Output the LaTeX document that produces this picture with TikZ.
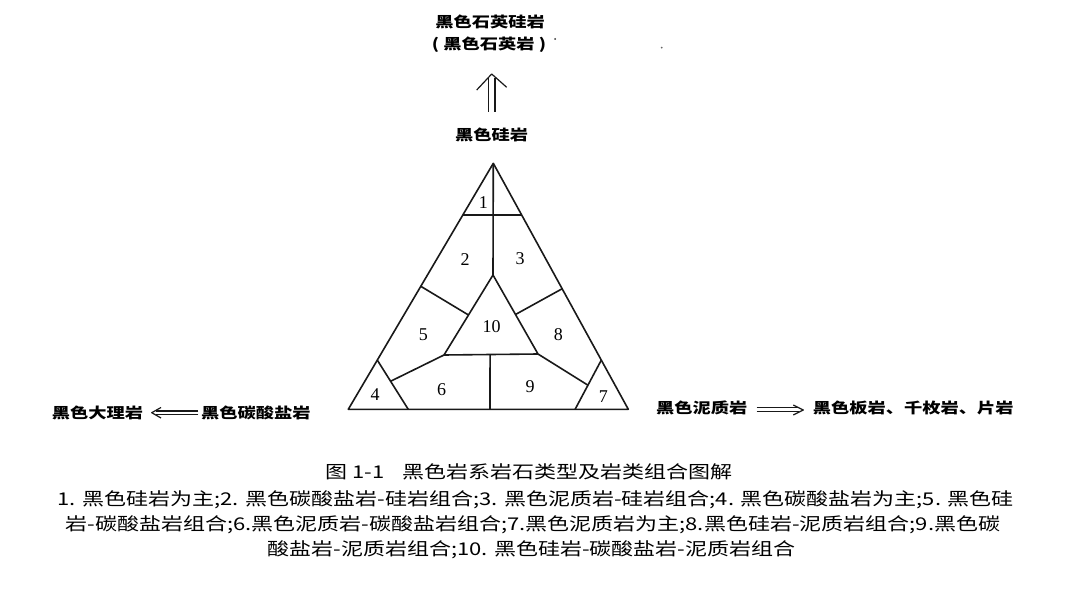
\documentclass[tikz,border=0pt]{standalone}
\usepackage{fontspec}
\newfontfamily\cjk[FakeStretch=1.25]{Noto Sans CJK SC}
\newfontfamily\numf{Liberation Serif}
\usetikzlibrary{calc}
\begin{document}
\begin{tikzpicture}[x=1pt,y=-1pt,line join=round,
  edge/.style={line width=1.6pt,black!90},
  arr/.style={line width=1.2pt,black!90},
  lbl/.style={font=\cjk\bfseries\fontsize{14.6}{16}\selectfont,inner sep=0pt},
  capline/.style={font=\cjk\fontsize{17.6}{20}\selectfont,inner sep=0pt},
  num/.style={font=\numf\fontsize{18}{20}\selectfont,inner sep=0pt}]
\useasboundingbox (0,0) rectangle (1072,594);
\fill[white] (0,0) rectangle (1072,594);
% outer triangle
\coordinate (A) at (493.3,163.3);
\coordinate (BL) at (348.3,409.3);
\coordinate (BR) at (628.3,409.3);
% inner triangle 10
\coordinate (Ta) at (493,275);
\coordinate (Tl) at (444,355);
\coordinate (Tr) at (538,354);
% points on sides
\coordinate (L1) at ($(A)!0.21!(BL)$);
\coordinate (R1) at ($(A)!0.21!(BR)$);
\coordinate (L5) at ($(A)!0.5!(BL)$);
\coordinate (R8) at ($(A)!0.51!(BR)$);
\coordinate (L4) at ($(A)!0.8!(BL)$);
\coordinate (R7) at ($(A)!0.8!(BR)$);
\coordinate (B4) at ($(BL)!0.214!(BR)$);
\coordinate (B7) at ($(BR)!0.19!(BL)$);
\coordinate (T5) at ($(Ta)!0.5!(Tl)$);
\coordinate (T8) at ($(Ta)!0.5!(Tr)$);
\coordinate (E4) at ($(L4)!0.43!(B4)$);
\coordinate (E7) at ($(R7)!0.51!(B7)$);
\coordinate (Tm) at ($(Tl)!0.49!(Tr)$);
\coordinate (Bm) at (490,409.3);
\draw[edge] (A) -- (BL) -- (BR) -- cycle;
\draw[edge] (Ta) -- (Tl) -- (Tr) -- cycle;
\draw[edge] (L1) -- (R1);
\draw[edge] (A) -- (Ta);
\draw[edge] (L5) -- (T5);
\draw[edge] (R8) -- (T8);
\draw[edge] (L4) -- (B4);
\draw[edge] (R7) -- (B7);
\draw[edge] (Tl) -- (E4);
\draw[edge] (Tr) -- (E7);
\draw[edge] (Tm) -- (Bm);
% numbers
\node[num] (n1) at (483.3,202.7) {1};
\node[num] (n2) at (465,260) {2};
\node[num] (n3) at (520,258.3) {3};
\node[num] (n4) at (375,395) {4};
\node[num] (n5) at (423.3,335) {5};
\node[num] (n6) at (441.7,390) {6};
\node[num] (n7) at (603.3,396.7) {7};
\node[num] (n8) at (558.3,335) {8};
\node[num] (n9) at (530,386.7) {9};
\node[num] (n10) at (491.7,326.7) {10};
% top labels
\node[lbl] (q1) at (490,21.7) {黑色石英硅岩};
\node[lbl] (q2) at (489,45) {( 黑色石英岩 )};
\node[lbl] (si) at (491.5,135) {黑色硅岩};
\fill[black!80] (555,39) circle (1pt);
\fill[black!60] (661.7,47.7) circle (1pt);
% up arrow
\coordinate (ua1) at (488.3,111.7);
\coordinate (ua2) at (488.3,78);
\coordinate (ub1) at (495,111.7);
\coordinate (ub2) at (495,78);
\coordinate (uhl) at (476.7,90);
\coordinate (uht) at (491.7,74);
\coordinate (uhr) at (506.7,87.3);
\draw[arr] (ua1) -- (ua2);
\draw[arr] (ub1) -- (ub2);
\draw[arr] (uhl) -- (uht) -- (uhr);
% left labels and arrow
\node[lbl] (mar) at (97.5,412.7) {黑色大理岩};
\node[lbl] (carb) at (255.8,412.7) {黑色碳酸盐岩};
\coordinate (la1) at (198.3,411);
\coordinate (la2) at (156,411);
\coordinate (lb1) at (198.3,414.5);
\coordinate (lb2) at (156,414.5);
\coordinate (lht) at (151.7,412.7);
\coordinate (lhu) at (161,407.5);
\coordinate (lhd) at (161,418);
\draw[arr] (la1) -- (la2);
\draw[arr] (lb1) -- (lb2);
\draw[arr] (lhu) -- (lht) -- (lhd);
% right labels and arrow
\node[lbl] (mud) at (701.7,408) {黑色泥质岩};
\node[lbl] (sla) at (913.3,408) {黑色板岩、千枚岩、片岩};
\coordinate (ra1) at (756.7,407.7);
\coordinate (ra2) at (799,407.7);
\coordinate (rb1) at (756.7,411.7);
\coordinate (rb2) at (799,411.7);
\coordinate (rht) at (803.3,410);
\coordinate (rhu) at (793.3,405);
\coordinate (rhd) at (793.3,415);
\draw[arr] (ra1) -- (ra2);
\draw[arr] (rb1) -- (rb2);
\draw[arr] (rhu) -- (rht) -- (rhd);
% caption
\node[capline] (c1) at (529,471.7) {图 1-1\quad 黑色岩系岩石类型及岩类组合图解};
\node[capline] (c2) at (535.8,500) {1. 黑色硅岩为主;2. 黑色碳酸盐岩-硅岩组合;3. 黑色泥质岩-硅岩组合;4. 黑色碳酸盐岩为主;5. 黑色硅};
\node[capline] (c3) at (532.8,525) {岩-碳酸盐岩组合;6.黑色泥质岩-碳酸盐岩组合;7.黑色泥质岩为主;8.黑色硅岩-泥质岩组合;9.黑色碳};
\node[capline] (c4) at (531.5,550) {酸盐岩-泥质岩组合;10. 黑色硅岩-碳酸盐岩-泥质岩组合};
\end{tikzpicture}
\end{document}
